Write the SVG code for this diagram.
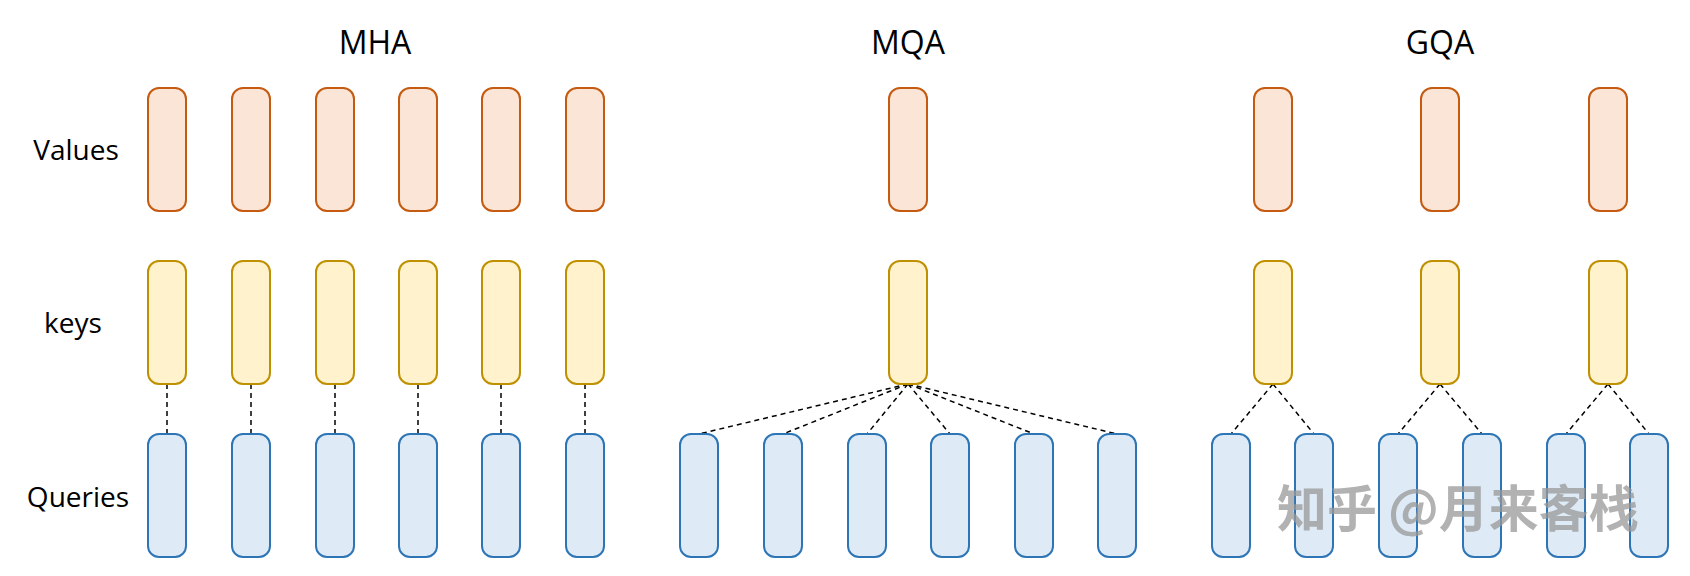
<svg xmlns="http://www.w3.org/2000/svg" width="1690" height="576" viewBox="0 0 1690 576">
<style>
text{font-family:"Open Sans","Liberation Sans",sans-serif;fill:#000}
.t{font-size:32px;text-anchor:middle}
.l{font-size:28px;text-anchor:middle}
.v{fill:#fbe5d6;stroke:#c55a11;stroke-width:2}
.k{fill:#fff2cc;stroke:#bf9000;stroke-width:2}
.q{fill:#deebf7;stroke:#2e75b6;stroke-width:2}
.c line{stroke:#000;stroke-width:1.5;stroke-dasharray:5 4}
.wm{font-family:"Noto Sans CJK SC",sans-serif;font-size:50px;font-weight:bold;fill:#999;opacity:0.75}
</style>
<defs>
<rect id="b" x="-19" y="0" width="38" height="123" rx="11"/>
</defs>
<text class="t" x="375" y="54">MHA</text>
<text class="t" x="908" y="54">MQA</text>
<text class="t" x="1440" y="54">GQA</text>
<text class="l" x="76" y="160">Values</text>
<text class="l" x="73" y="333">keys</text>
<text class="l" x="78" y="507">Queries</text>
<g class="c">
<line x1="167" y1="384" x2="167" y2="434"/><line x1="251" y1="384" x2="251" y2="434"/><line x1="335" y1="384" x2="335" y2="434"/><line x1="418" y1="384" x2="418" y2="434"/><line x1="501" y1="384" x2="501" y2="434"/><line x1="585" y1="384" x2="585" y2="434"/>
<line x1="908" y1="384" x2="699" y2="434"/><line x1="908" y1="384" x2="783" y2="434"/><line x1="908" y1="384" x2="867" y2="434"/><line x1="908" y1="384" x2="950" y2="434"/><line x1="908" y1="384" x2="1034" y2="434"/><line x1="908" y1="384" x2="1117" y2="434"/>
<line x1="1273" y1="384" x2="1231" y2="434"/><line x1="1273" y1="384" x2="1314" y2="434"/>
<line x1="1440" y1="384" x2="1398" y2="434"/><line x1="1440" y1="384" x2="1482" y2="434"/>
<line x1="1608" y1="384" x2="1566" y2="434"/><line x1="1608" y1="384" x2="1649" y2="434"/>
</g>
<g id="mha-v"><use href="#b" class="v" x="167" y="88"/><use href="#b" class="v" x="251" y="88"/><use href="#b" class="v" x="335" y="88"/><use href="#b" class="v" x="418" y="88"/><use href="#b" class="v" x="501" y="88"/><use href="#b" class="v" x="585" y="88"/></g>
<g id="mha-k"><use href="#b" class="k" x="167" y="261"/><use href="#b" class="k" x="251" y="261"/><use href="#b" class="k" x="335" y="261"/><use href="#b" class="k" x="418" y="261"/><use href="#b" class="k" x="501" y="261"/><use href="#b" class="k" x="585" y="261"/></g>
<g id="mha-q"><use href="#b" class="q" x="167" y="434"/><use href="#b" class="q" x="251" y="434"/><use href="#b" class="q" x="335" y="434"/><use href="#b" class="q" x="418" y="434"/><use href="#b" class="q" x="501" y="434"/><use href="#b" class="q" x="585" y="434"/></g>
<g id="mqa-v"><use href="#b" class="v" x="908" y="88"/></g>
<g id="mqa-k"><use href="#b" class="k" x="908" y="261"/></g>
<g id="mqa-q"><use href="#b" class="q" x="699" y="434"/><use href="#b" class="q" x="783" y="434"/><use href="#b" class="q" x="867" y="434"/><use href="#b" class="q" x="950" y="434"/><use href="#b" class="q" x="1034" y="434"/><use href="#b" class="q" x="1117" y="434"/></g>
<g id="gqa-v"><use href="#b" class="v" x="1273" y="88"/><use href="#b" class="v" x="1440" y="88"/><use href="#b" class="v" x="1608" y="88"/></g>
<g id="gqa-k"><use href="#b" class="k" x="1273" y="261"/><use href="#b" class="k" x="1440" y="261"/><use href="#b" class="k" x="1608" y="261"/></g>
<g id="gqa-q"><use href="#b" class="q" x="1231" y="434"/><use href="#b" class="q" x="1314" y="434"/><use href="#b" class="q" x="1398" y="434"/><use href="#b" class="q" x="1482" y="434"/><use href="#b" class="q" x="1566" y="434"/><use href="#b" class="q" x="1649" y="434"/></g>
<text class="wm" x="1277" y="527">知乎 @月来客栈</text>
</svg>
